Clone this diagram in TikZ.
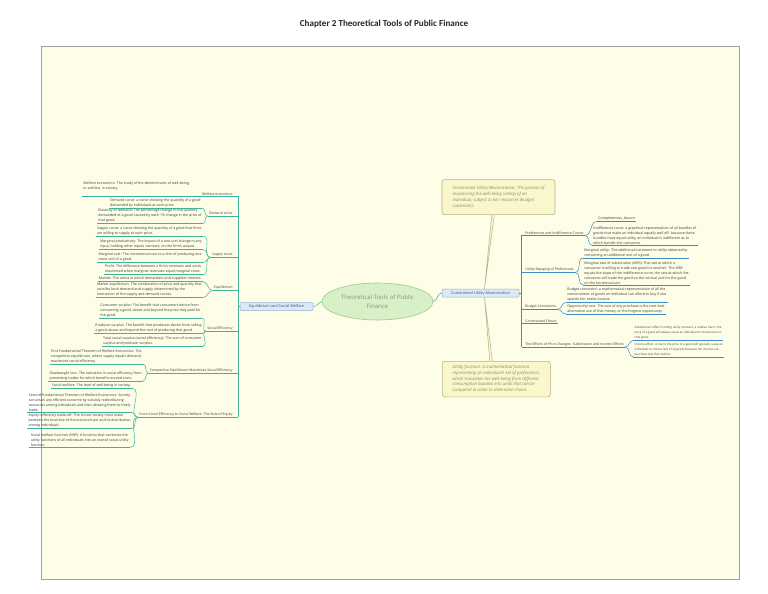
\documentclass[tikz,border=0pt]{standalone}
\usepackage{fontspec}
\setmainfont{Open Sans}
\newfontfamily\titlefont{Carlito}
\definecolor{paper}{HTML}{FEFDE8}
\definecolor{framec}{HTML}{A0A0A0}
\definecolor{txt}{HTML}{3A3A3A}
\definecolor{lineL}{HTML}{3FB39B}
\definecolor{lineR}{HTML}{3A8DC5}
\definecolor{topfill}{HTML}{DCE9F7}
\definecolor{topline}{HTML}{8FB3DA}
\definecolor{toptxt}{HTML}{3B5A7A}
\definecolor{cenfill}{HTML}{D8F0C8}
\definecolor{cenline}{HTML}{9CCB84}
\definecolor{centxt}{HTML}{8C8C8C}
\definecolor{callfill}{HTML}{FBF7CC}
\definecolor{callline}{HTML}{B5B08A}
\definecolor{calltxt}{HTML}{8B8960}
\newcommand\leaffont{\fontsize{3.55}{5}\selectfont}
\newcommand\smallleaffont{\fontsize{2.95}{5}\selectfont}
\newcommand\labfont{\fontsize{3.45}{5}\selectfont}
\usetikzlibrary{shapes.geometric}
\tikzset{
  leaf/.style={font=\leaffont, text=txt, align=left, inner xsep=1.2pt, inner ysep=0.7pt},
  lab/.style={font=\labfont, text=txt, inner xsep=1.2pt, inner ysep=0.9pt},
  ulL/.style={draw=lineL, line width=0.7pt},
  ulR/.style={draw=lineR, line width=0.7pt},
  cnL/.style={draw=lineL, line width=0.5pt},
  cnR/.style={draw=lineR, line width=0.5pt},
  topic/.style={draw=topline, fill=topfill, rounded corners=1pt, line width=0.5pt,
    font=\fontsize{3.9}{5}\selectfont, text=toptxt, minimum height=8pt, inner xsep=1pt, inner ysep=0pt},
  central/.style={ellipse, draw=cenline, fill=cenfill, line width=0.6pt, font=\fontsize{6}{8.5}\selectfont,
    text=centxt, align=center, minimum width=111pt, minimum height=37pt, inner sep=0pt},
  callout/.style={draw=callline, fill=callfill, rounded corners=2.5pt, line width=0.6pt,
    font=\fontsize{4.3}{6}\selectfont\itshape, text=calltxt, align=left, inner xsep=3pt, inner ysep=2pt}
}
\begin{document}
\begin{tikzpicture}[x=1pt,y=-1pt]
\useasboundingbox (0,0) rectangle (768,594);
\fill[white] (0,0) rectangle (768,594);
\draw[draw=framec, fill=paper, line width=0.6pt] (41,46) rectangle (739,579);
\node[font=\titlefont\bfseries\fontsize{9.1}{11}\selectfont, text=black!85] (title) at (384,24.3) {Chapter 2 Theoretical Tools of Public Finance};

% ---------- central ----------
\node[central] (root) at (377.5,301.5) {Theoretical Tools of Public\\Finance};
\node[topic, minimum width=73pt] (eq) at (276.5,306.5) {Equilibrium and Social Welfare};
\node[topic, minimum width=77pt] (cum) at (480.5,293) {Constrained Utility Maximization};
\draw[draw=lineL!60!cenline, line width=0.6pt] (eq.east) to[out=0,in=195] (root.west);
\draw[draw=lineR!60!cenline, line width=0.6pt] (root.east) to[out=15,in=180] (cum.west);

% ---------- left trunk ----------
\coordinate (ltop) at (238,196.3);
\coordinate (lbot) at (238,417.3);
\draw[ulL] (ltop) -- (lbot);
\draw[ulL] (eq.west) -- (eq.west -| ltop);

% Welfare economics
\node[lab, anchor=south east] (wel) at (234,196.3) {Welfare economics};
\node[leaf, anchor=south west] (weld) at (82,191) {Welfare economics: The study of the determinants of well-being,\\or welfare, in society.};
\draw[ulL] (weld.south west |- ltop) -- (ltop);

% Demand curve
\node[lab, anchor=south east] (dc) at (234,216) {Demand curve};
\draw[ulL] (dc.south west) -- (dc.south west -| ltop);
\node[leaf, anchor=south east] (dc1) at (202,208) {Demand curve: a curve showing the quantity of a good\\demanded by individuals at each price.};
\node[leaf, anchor=south east] (dc2) at (203,223.5) {Elasticity of demand: The percentage change in the quantity\\demanded of a good caused by each 1\% change in the price of\\that good.};
\foreach \n in {dc1,dc2}{\draw[ulL] (\n.south west) -- (\n.south east); \draw[cnL] (\n.south east) to[out=0,in=180] (dc.south west);}

% Supply curve
\node[lab, anchor=south east] (sc) at (234,257.5) {Supply curve};
\draw[ulL] (sc.south west) -- (sc.south west -| ltop);
\node[leaf, anchor=south east] (sc1) at (203,236) {Supply curve: a curve showing the quantity of a good that firms\\are willing to supply at each price.};
\node[leaf, anchor=south east] (sc2) at (203,249.7) {Marginal productivity: The impact of a one-unit change in any\\input, holding other inputs constant, on the firm's output.};
\node[leaf, anchor=south east] (sc3) at (203,262.5) {Marginal cost: The incremental cost to a firm of producing one\\more unit of a good.};
\node[leaf, anchor=south east] (sc4) at (203,274.7) {Profit: The difference between a firm's revenues and costs,\\maximized when marginal revenues equal marginal costs.};
\foreach \n in {sc1,sc2,sc3,sc4}{\draw[ulL] (\n.south west) -- (\n.south east); \draw[cnL] (\n.south east) to[out=0,in=180] (sc.south west);}

% Equilibrium
\node[lab, anchor=south east] (em) at (234,290.5) {Equilibrium};
\draw[ulL] (em.south west) -- (em.south west -| ltop);
\node[leaf, anchor=south east] (em1) at (203,281.7) {Market: The arena in which demanders and suppliers interact.};
\node[leaf, anchor=south east] (em2) at (203,297.5) {Market equilibrium: The combination of price and quantity that\\satisfies both demand and supply, determined by the\\interaction of the supply and demand curves.};
\foreach \n in {em1,em2}{\draw[ulL] (\n.south west) -- (\n.south east); \draw[cnL] (\n.south east) to[out=0,in=180] (em.south west);}

% Social Efficiency
\node[lab, anchor=south east] (se) at (234,331) {Social Efficiency};
\draw[ulL] (se.south west) -- (se.south west -| ltop);
\node[leaf, anchor=south east] (se1) at (202,318) {Consumer surplus: The benefit that consumers derive from\\consuming a good, above and beyond the price they paid for\\the good.};
\node[leaf, anchor=south east] (se2) at (203,333.7) {Producer surplus: The benefit that producers derive from selling\\a good, above and beyond the cost of producing that good.};
\node[leaf, anchor=south east] (se3) at (203,346) {Total social surplus (social efficiency): The sum of consumer\\surplus and producer surplus.};
\foreach \n in {se1,se2,se3}{\draw[ulL] (\n.south west) -- (\n.south east); \draw[cnL] (\n.south east) to[out=0,in=180] (se.south west);}

% Competitive equilibrium
\node[lab, anchor=south east] (ce) at (234,373.3) {Competitive Equilibrium Maximizes Social Efficiency};
\draw[ulL] (ce.south west) -- (ce.south west -| ltop);
\node[leaf, anchor=south east] (ce1) at (143,364) {First Fundamental Theorem of Welfare Economics: The\\competitive equilibrium, where supply equals demand,\\maximizes social efficiency.};
\node[leaf, anchor=south east] (ce2) at (143,381) {Deadweight loss: The reduction in social efficiency from\\preventing trades for which benefits exceed costs.};
\foreach \n in {ce1,ce2}{\draw[ulL] (\n.south west) -- (\n.south east); \draw[cnL] (\n.south east) to[out=0,in=180] (ce.south west);}

% From social efficiency
\node[lab, anchor=south east] (fr) at (234,417.3) {From Social Efficiency to Social Welfare: The Role of Equity};
\draw[ulL] (fr.south west) -- (lbot);
\node[leaf, anchor=south east] (fr1) at (132,388.3) {Social welfare: The level of well-being in society.};
\node[leaf, anchor=south east] (fr2) at (132,412.7) {Second Fundamental Theorem of Welfare Economics: Society\\can attain any efficient outcome by suitably redistributing\\resources among individuals and then allowing them to freely\\trade.};
\node[leaf, anchor=south east] (fr3) at (132,428.5) {Equity--efficiency trade-off: The choice society must make\\between the total size of the economic pie and its distribution\\among individuals.};
\node[leaf, anchor=south east] (fr4) at (130,447.3) {Social welfare function (SWF): A function that combines the\\utility functions of all individuals into an overall social utility\\function.};
\foreach \n in {fr1,fr2,fr3,fr4}{\draw[ulL] (\n.south west) -- (\n.south east); \draw[cnL] (\n.south east) to[out=0,in=180] (fr.south west);}

% ---------- right trunk ----------
\coordinate (rtop) at (521.7,235.3);
\coordinate (rbot) at (521.7,347);
\draw[ulR] (rtop) -- (rbot);
\draw[ulR] (cum.east) -- (cum.east -| rtop);

% Preferences
\node[lab, anchor=south west] (pr) at (524,235.3) {Preferences and Indifference Curves};
\draw[ulR] (rtop) -- (pr.south east);
\node[leaf, anchor=south west] (pr1) at (597,221.5) {Completeness, Assum};
\node[leaf, anchor=south west] (pr2) at (592,245.5) {Indifference curve: a graphical representation of all bundles of\\goods that make an individual equally well off. because these\\bundles have equal utility, an individual is indifferent as to\\which bundle she consumes.};
\foreach \n in {pr1,pr2}{\draw[ulR] (\n.south west) -- (\n.south east); \draw[cnR] (pr.south east) to[out=0,in=180] (\n.south west);}

% Utility mapping
\node[lab, anchor=south west] (um) at (524,272.3) {Utility Mapping of Preferences};
\draw[ulR] (um.south west -| rtop) -- (um.south east);
\node[leaf, anchor=south west] (um1) at (583,258) {Marginal utility: The additional increment to utility obtained by\\consuming an additional unit of a good.};
\node[leaf, anchor=south west] (um2) at (583,285) {Marginal rate of substitution (MRS): The rate at which a\\consumer is willing to trade one good for another. The MRS\\equals the slope of the indifference curve, the rate at which the\\consumer will trade the good on the vertical axis for the good\\on the horizontal axis.};
\foreach \n in {um1,um2}{\draw[ulR] (\n.south west) -- (\n.south east); \draw[cnR] (um.south east) to[out=0,in=180] (\n.south west);}

% Budget constraints
\node[lab, anchor=south west] (bc) at (524,309.5) {Budget Constraints};
\draw[ulR] (bc.south west -| rtop) -- (bc.south east);
\node[leaf, anchor=south west] (bc1) at (566,302.5) {Budget constraint: a mathematical representation of all the\\combinations of goods an individual can afford to buy if she\\spends her entire income.};
\node[leaf, anchor=south west] (bc2) at (566,314) {Opportunity cost: The cost of any purchase is the next best\\alternative use of that money, or the forgone opportunity.};
\foreach \n in {bc1,bc2}{\draw[ulR] (\n.south west) -- (\n.south east); \draw[cnR] (bc.south east) to[out=0,in=180] (\n.south west);}

% Constrained choice
\node[lab, anchor=south west] (cc) at (524,323.3) {Constrained Choice};
\draw[ulR] (cc.south west -| rtop) -- (cc.south east);

% Effects of price changes
\node[lab, anchor=south west] (ef) at (524,347) {The Effects of Price Changes: Substitution and Income Effects};
\draw[ulR] (rbot) -- (ef.south east);
\node[leaf, font=\smallleaffont, anchor=south west] (ef1) at (633.3,340.5) {Substitution effect: holding utility constant, a relative rise in the\\price of a good will always cause an individual to choose less of\\that good.};
\node[leaf, font=\smallleaffont, anchor=south west] (ef2) at (633.3,357) {Income effect: A rise in the price of a good will typically cause an\\individual to choose less of all goods because her income can\\purchase less than before.};
\foreach \n in {ef1,ef2}{\draw[ulR] (\n.south west) -- (\n.south east); \draw[cnR] (ef.south east) to[out=0,in=180] (\n.south west);}

% ---------- callouts ----------
\node[callout, minimum width=113pt, minimum height=35pt, anchor=north west] (c1) at (441.7,179.3) {Constrained Utility Maximization: The process of\\maximizing the well-being (utility) of an\\individual, subject to her resources (budget\\constraint).};
\node[callout, minimum width=108pt, minimum height=35.5pt, anchor=north west, font=\fontsize{4.3}{5.8}\selectfont\itshape] (c2) at (442,361) {Utility function: a mathematical function\\representing an individual's set of preferences,\\which translates her well-being from different\\consumption bundles into units that can be\\compared in order to determine choice.};
\fill[callfill] ([xshift=-6.7pt,yshift=0.4pt]c1.south) -- ([xshift=-4.2pt,yshift=0.4pt]c1.south) -- ([xshift=4pt]cum.north) -- cycle;
\draw[callline, line width=0.5pt] ([xshift=-6.7pt]c1.south) -- ([xshift=4pt]cum.north) ([xshift=-4.2pt]c1.south) -- ([xshift=4pt]cum.north);
\fill[callfill] ([xshift=-6.5pt,yshift=-0.4pt]c2.north) -- ([xshift=-4pt,yshift=-0.4pt]c2.north) -- ([xshift=4pt]cum.south) -- cycle;
\draw[callline, line width=0.5pt] ([xshift=-6.5pt]c2.north) -- ([xshift=4pt]cum.south) ([xshift=-4pt]c2.north) -- ([xshift=4pt]cum.south);
\end{tikzpicture}
\end{document}
